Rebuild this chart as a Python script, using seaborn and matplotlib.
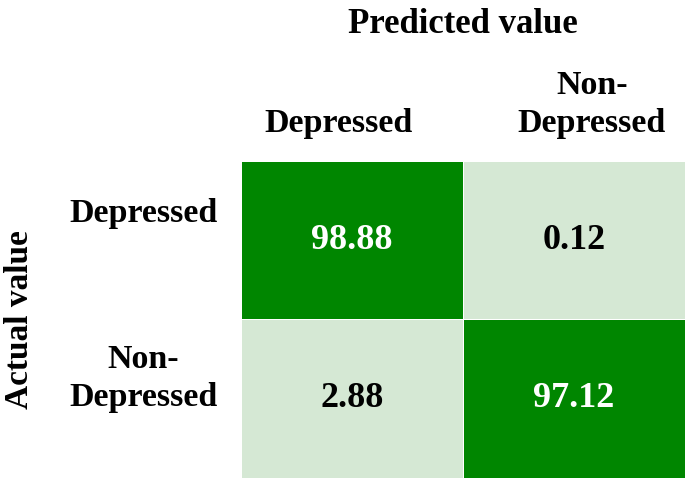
import matplotlib
matplotlib.use('Agg')
import matplotlib.pyplot as plt
import numpy as np
import pandas as pd
import seaborn as sns
from matplotlib.colors import ListedColormap

# confusion matrix values (%)
classes = ['Depressed', 'Non-\nDepressed']
row_depressed = [98.88, 0.12]
row_non_depressed = [2.88, 97.12]

df = pd.DataFrame([row_depressed, row_non_depressed], index=classes, columns=classes)

sns.set_theme(style='white')
plt.rcParams['font.family'] = ['Liberation Serif', 'DejaVu Serif']
plt.rcParams['font.weight'] = 'bold'
plt.rcParams['text.color'] = 'black'
plt.rcParams['xtick.color'] = 'black'
plt.rcParams['ytick.color'] = 'black'
plt.rcParams['axes.labelcolor'] = 'black'

fig = plt.figure(figsize=(6.85, 4.79), dpi=100)
ax = fig.add_axes([0.352, 0.002, 0.648, 0.662])

# two-tone map: low values light green, high values dark green
cmap = ListedColormap(['#d5e8d4', '#008600'])
sns.heatmap(df, cmap=cmap, vmin=0, vmax=100, annot=True, fmt='.2f', cbar=False,
            linewidths=0.7, linecolor='white', ax=ax,
            annot_kws={'fontsize': 26, 'fontweight': 'bold'})

# dark text on the light cells
for text in ax.texts:
    if float(text.get_text()) < 50:
        text.set_color('black')
    else:
        text.set_color('white')

ax.xaxis.tick_top()
ax.xaxis.set_label_position('top')
ax.set_xticks([0.44, 1.58])
ax.set_xticklabels(classes, fontsize=24.5, fontweight='bold')
ax.set_yticks([0.33, 1.37])
ax.set_yticklabels(classes, fontsize=24.5, fontweight='bold', rotation=0)
for t in ax.get_yticklabels() + ax.get_xticklabels():
    t.set_multialignment('center')
    t.set_linespacing(1.3)
ax.tick_params(axis='x', length=0, pad=16)
ax.tick_params(axis='y', length=0, pad=17)

ax.set_xlabel('Predicted value', fontsize=25, fontweight='bold')
ax.set_ylabel('Actual value', fontsize=24, fontweight='bold')
ax.yaxis.set_label_coords(-0.465, 0.5)
ax.xaxis.set_label_coords(0.5, 1.405)

plt.savefig('out.png', dpi=100)
